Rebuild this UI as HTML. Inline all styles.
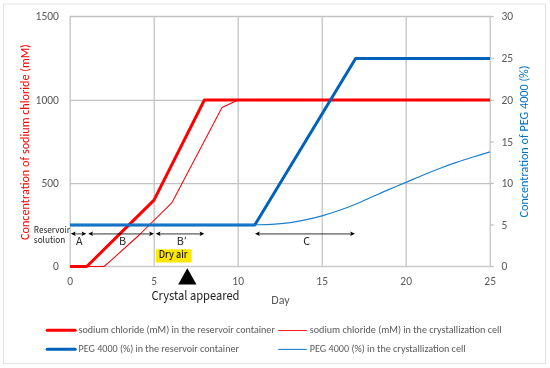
<!DOCTYPE html>
<html><head><meta charset="utf-8"><title>Chart</title>
<style>html,body{margin:0;padding:0;background:#fff;width:550px;height:368px;overflow:hidden}svg{display:block}</style>
</head><body>
<svg width="550" height="368" viewBox="0 0 550 368"><rect x="3.5" y="4" width="542" height="359.6" fill="none" stroke="#E3E3E3" stroke-width="1"/>
<line x1="70" y1="16.50" x2="490.6" y2="16.50" stroke="#C2C2C2" stroke-width="1.3"/>
<line x1="70" y1="100.45" x2="490.6" y2="100.45" stroke="#C2C2C2" stroke-width="1.3"/>
<line x1="70" y1="183.55" x2="490.6" y2="183.55" stroke="#C2C2C2" stroke-width="1.3"/>
<line x1="70.20" y1="16.00" x2="70.20" y2="267.00" stroke="#C2C2C2" stroke-width="1.25"/>
<line x1="154.20" y1="16.00" x2="154.20" y2="267.00" stroke="#C2C2C2" stroke-width="1.25"/>
<line x1="238.20" y1="16.00" x2="238.20" y2="267.00" stroke="#C2C2C2" stroke-width="1.25"/>
<line x1="322.20" y1="16.00" x2="322.20" y2="267.00" stroke="#C2C2C2" stroke-width="1.25"/>
<line x1="406.20" y1="16.00" x2="406.20" y2="267.00" stroke="#C2C2C2" stroke-width="1.25"/>
<line x1="490.20" y1="16.00" x2="490.20" y2="267.00" stroke="#C2C2C2" stroke-width="1.25"/>
<line x1="70" y1="266.50" x2="490.6" y2="266.50" stroke="#CACACA" stroke-width="1.3"/>
<line x1="490" y1="266.50" x2="493.8" y2="266.50" stroke="#C2C2C2" stroke-width="1.3"/>
<line x1="490" y1="224.97" x2="493.8" y2="224.97" stroke="#C2C2C2" stroke-width="1.3"/>
<line x1="490" y1="183.45" x2="493.8" y2="183.45" stroke="#C2C2C2" stroke-width="1.3"/>
<line x1="490" y1="141.90" x2="493.8" y2="141.90" stroke="#C2C2C2" stroke-width="1.3"/>
<line x1="490" y1="100.35" x2="493.8" y2="100.35" stroke="#C2C2C2" stroke-width="1.3"/>
<line x1="490" y1="58.42" x2="493.8" y2="58.42" stroke="#C2C2C2" stroke-width="1.3"/>
<line x1="490" y1="16.50" x2="493.8" y2="16.50" stroke="#C2C2C2" stroke-width="1.3"/>
<polyline points="70.00,266.50 86.80,266.50 154.00,200.06 204.40,100.00 490.00,100.00" fill="none" stroke="#FF0000" stroke-width="3" stroke-linejoin="round"/>
<polyline points="70,266.5 104,266.5 111.7,259.8 139.2,235 172,202.6 222,107.4 238.2,100.1 490,100.1" fill="none" stroke="#FF0000" stroke-width="1.05" stroke-linejoin="round"/>
<polyline points="70.00,224.97 254.80,224.97 355.60,58.42 490.00,58.42" fill="none" stroke="#0062B8" stroke-width="3" stroke-linejoin="round"/>
<path d="M70,224.8 L254.8,224.8 C257.60,224.72 266.00,224.63 271.60,224.30 C277.20,223.97 282.80,223.55 288.40,222.80 C294.00,222.05 299.60,220.97 305.20,219.80 C310.80,218.63 316.40,217.35 322.00,215.80 C327.60,214.25 333.20,212.43 338.80,210.50 C344.40,208.57 350.00,206.48 355.60,204.20 C361.20,201.92 366.80,199.27 372.40,196.80 C378.00,194.33 383.60,191.80 389.20,189.40 C394.80,187.00 400.40,184.77 406.00,182.40 C411.60,180.03 417.20,177.52 422.80,175.20 C428.40,172.88 434.00,170.63 439.60,168.50 C445.20,166.37 450.80,164.32 456.40,162.40 C462.00,160.48 467.60,158.75 473.20,157.00 C478.80,155.25 487.20,152.75 490.00,151.90" fill="none" stroke="#1D80CD" stroke-width="1.2"/>
<line x1="73.80" y1="233.8" x2="83.40" y2="233.8" stroke="#8A8A8A" stroke-width="1.7" style="mix-blend-mode:multiply"/><polygon points="70.80,233.8 75.60,231.50 74.70,233.8 75.60,236.10" fill="#000"/><polygon points="86.40,233.8 81.60,231.50 82.50,233.8 81.60,236.10" fill="#000"/>
<line x1="91.20" y1="233.8" x2="151.00" y2="233.8" stroke="#8A8A8A" stroke-width="1.7" style="mix-blend-mode:multiply"/><polygon points="88.20,233.8 93.00,231.50 92.10,233.8 93.00,236.10" fill="#000"/><polygon points="154.00,233.8 149.20,231.50 150.10,233.8 149.20,236.10" fill="#000"/>
<line x1="158.70" y1="233.8" x2="201.40" y2="233.8" stroke="#8A8A8A" stroke-width="1.7" style="mix-blend-mode:multiply"/><polygon points="155.70,233.8 160.50,231.50 159.60,233.8 160.50,236.10" fill="#000"/><polygon points="204.40,233.8 199.60,231.50 200.50,233.8 199.60,236.10" fill="#000"/>
<line x1="258.00" y1="233.8" x2="352.00" y2="233.8" stroke="#8A8A8A" stroke-width="1.7" style="mix-blend-mode:multiply"/><polygon points="255.00,233.8 259.80,231.50 258.90,233.8 259.80,236.10" fill="#000"/><polygon points="355.00,233.8 350.20,231.50 351.10,233.8 350.20,236.10" fill="#000"/>
<text x="79.2" y="244.8" font-size="12" fill="#262626" font-family="'Source Sans 3', 'Liberation Sans', sans-serif" text-anchor="middle" textLength="6.53" lengthAdjust="spacingAndGlyphs">A</text>
<text x="122.5" y="244.8" font-size="12" fill="#262626" font-family="'Source Sans 3', 'Liberation Sans', sans-serif" text-anchor="middle" textLength="7.06" lengthAdjust="spacingAndGlyphs">B</text>
<text x="181.7" y="244.8" font-size="12" fill="#262626" font-family="'Source Sans 3', 'Liberation Sans', sans-serif" text-anchor="middle" textLength="10.05" lengthAdjust="spacingAndGlyphs">B&#8242;</text>
<text x="306.6" y="244.8" font-size="12" fill="#262626" font-family="'Source Sans 3', 'Liberation Sans', sans-serif" text-anchor="middle" textLength="6.86" lengthAdjust="spacingAndGlyphs">C</text>
<text x="33.8" y="233.1" font-size="10.3" fill="#262626" font-family="'Source Sans 3', 'Liberation Sans', sans-serif" text-anchor="start" textLength="36" lengthAdjust="spacingAndGlyphs" font-weight="450">Reservoir</text>
<text x="33.8" y="243.4" font-size="10.3" fill="#262626" font-family="'Source Sans 3', 'Liberation Sans', sans-serif" text-anchor="start" textLength="31.5" lengthAdjust="spacingAndGlyphs" font-weight="450">solution</text>
<rect x="155.9" y="249.3" width="35.7" height="13.2" fill="#FFE800"/>
<text x="158.8" y="258.2" font-size="11.1" fill="#141414" font-family="'Source Sans 3', 'Liberation Sans', sans-serif" text-anchor="start" textLength="28.6" lengthAdjust="spacingAndGlyphs" font-weight="500">Dry air</text>
<polygon points="187.3,268.3 178.2,284.4 196.5,284.4" fill="#000"/>
<text x="151.5" y="300.1" font-size="13.2" fill="#1f1f1f" font-family="'Source Sans 3', 'Liberation Sans', sans-serif" text-anchor="start" textLength="88" lengthAdjust="spacingAndGlyphs" font-weight="450">Crystal appeared</text>
<text x="58.9" y="20.00" font-size="11.5" fill="#595959" font-family="Carlito, 'Liberation Sans', sans-serif" text-anchor="end" textLength="23.33" lengthAdjust="spacingAndGlyphs">1500</text>
<text x="58.9" y="103.85" font-size="11.5" fill="#595959" font-family="Carlito, 'Liberation Sans', sans-serif" text-anchor="end" textLength="23.33" lengthAdjust="spacingAndGlyphs">1000</text>
<text x="58.9" y="186.95" font-size="11.5" fill="#595959" font-family="Carlito, 'Liberation Sans', sans-serif" text-anchor="end" textLength="17.50" lengthAdjust="spacingAndGlyphs">500</text>
<text x="58.9" y="270.00" font-size="11.5" fill="#595959" font-family="Carlito, 'Liberation Sans', sans-serif" text-anchor="end" textLength="5.84" lengthAdjust="spacingAndGlyphs">0</text>
<text x="70.20" y="285.2" font-size="11.5" fill="#595959" font-family="Carlito, 'Liberation Sans', sans-serif" text-anchor="middle" textLength="5.84" lengthAdjust="spacingAndGlyphs">0</text>
<text x="154.20" y="285.2" font-size="11.5" fill="#595959" font-family="Carlito, 'Liberation Sans', sans-serif" text-anchor="middle" textLength="5.84" lengthAdjust="spacingAndGlyphs">5</text>
<text x="238.20" y="285.2" font-size="11.5" fill="#595959" font-family="Carlito, 'Liberation Sans', sans-serif" text-anchor="middle" textLength="11.67" lengthAdjust="spacingAndGlyphs">10</text>
<text x="322.20" y="285.2" font-size="11.5" fill="#595959" font-family="Carlito, 'Liberation Sans', sans-serif" text-anchor="middle" textLength="11.67" lengthAdjust="spacingAndGlyphs">15</text>
<text x="406.20" y="285.2" font-size="11.5" fill="#595959" font-family="Carlito, 'Liberation Sans', sans-serif" text-anchor="middle" textLength="11.67" lengthAdjust="spacingAndGlyphs">20</text>
<text x="490.20" y="285.2" font-size="11.5" fill="#595959" font-family="Carlito, 'Liberation Sans', sans-serif" text-anchor="middle" textLength="11.67" lengthAdjust="spacingAndGlyphs">25</text>
<text x="501.5" y="270.40" font-size="11.5" fill="#595959" font-family="Carlito, 'Liberation Sans', sans-serif" text-anchor="start" textLength="5.84" lengthAdjust="spacingAndGlyphs">0</text>
<text x="501.5" y="228.88" font-size="11.5" fill="#595959" font-family="Carlito, 'Liberation Sans', sans-serif" text-anchor="start" textLength="5.84" lengthAdjust="spacingAndGlyphs">5</text>
<text x="501.5" y="187.35" font-size="11.5" fill="#595959" font-family="Carlito, 'Liberation Sans', sans-serif" text-anchor="start" textLength="11.67" lengthAdjust="spacingAndGlyphs">10</text>
<text x="501.5" y="145.80" font-size="11.5" fill="#595959" font-family="Carlito, 'Liberation Sans', sans-serif" text-anchor="start" textLength="11.67" lengthAdjust="spacingAndGlyphs">15</text>
<text x="501.5" y="104.25" font-size="11.5" fill="#595959" font-family="Carlito, 'Liberation Sans', sans-serif" text-anchor="start" textLength="11.67" lengthAdjust="spacingAndGlyphs">20</text>
<text x="501.5" y="62.32" font-size="11.5" fill="#595959" font-family="Carlito, 'Liberation Sans', sans-serif" text-anchor="start" textLength="11.67" lengthAdjust="spacingAndGlyphs">25</text>
<text x="501.5" y="20.40" font-size="11.5" fill="#595959" font-family="Carlito, 'Liberation Sans', sans-serif" text-anchor="start" textLength="11.67" lengthAdjust="spacingAndGlyphs">30</text>
<text x="280.5" y="303.8" font-size="12" fill="#595959" font-family="Carlito, 'Liberation Sans', sans-serif" text-anchor="middle" textLength="18.34" lengthAdjust="spacingAndGlyphs">Day</text>
<text transform="translate(29.3,142.1) rotate(-90)" x="0" y="0" font-size="12.2" fill="#FF0000" font-family="Carlito, 'Liberation Sans', sans-serif" text-anchor="middle" textLength="195.81" lengthAdjust="spacingAndGlyphs">Concentration of sodium chloride (mM)</text>
<text transform="translate(528.1,141.5) rotate(-90)" x="0" y="0" font-size="12.2" fill="#0070C0" font-family="Carlito, 'Liberation Sans', sans-serif" text-anchor="middle" textLength="152.05" lengthAdjust="spacingAndGlyphs">Concentration of PEG 4000 (%)</text>
<line x1="47.2" y1="330.3" x2="75.2" y2="330.3" stroke="#FF0000" stroke-width="3" stroke-linecap="round"/>
<line x1="47.2" y1="349.3" x2="75.2" y2="349.3" stroke="#0062B8" stroke-width="3" stroke-linecap="round"/>
<line x1="278.2" y1="330.5" x2="306.7" y2="330.5" stroke="#FF0000" stroke-width="0.9"/>
<line x1="278.2" y1="349.4" x2="306.7" y2="349.4" stroke="#1D80CD" stroke-width="1.1"/>
<text x="78.6" y="333.1" font-size="10.05" fill="#595959" font-family="Carlito, 'Liberation Sans', sans-serif" text-anchor="start" textLength="196.3" lengthAdjust="spacingAndGlyphs">sodium chloride (mM) in the reservoir container</text>
<text x="78.6" y="351.9" font-size="10.05" fill="#595959" font-family="Carlito, 'Liberation Sans', sans-serif" text-anchor="start" textLength="160.4" lengthAdjust="spacingAndGlyphs">PEG 4000 (%) in the reservoir container</text>
<text x="309.8" y="333.1" font-size="10.1" fill="#595959" font-family="Carlito, 'Liberation Sans', sans-serif" text-anchor="start" textLength="191.8" lengthAdjust="spacingAndGlyphs">sodium chloride (mM) in the crystallization cell</text>
<text x="309.8" y="351.9" font-size="10.1" fill="#595959" font-family="Carlito, 'Liberation Sans', sans-serif" text-anchor="start" textLength="155.8" lengthAdjust="spacingAndGlyphs">PEG 4000 (%) in the crystallization cell</text></svg>
</body></html>
